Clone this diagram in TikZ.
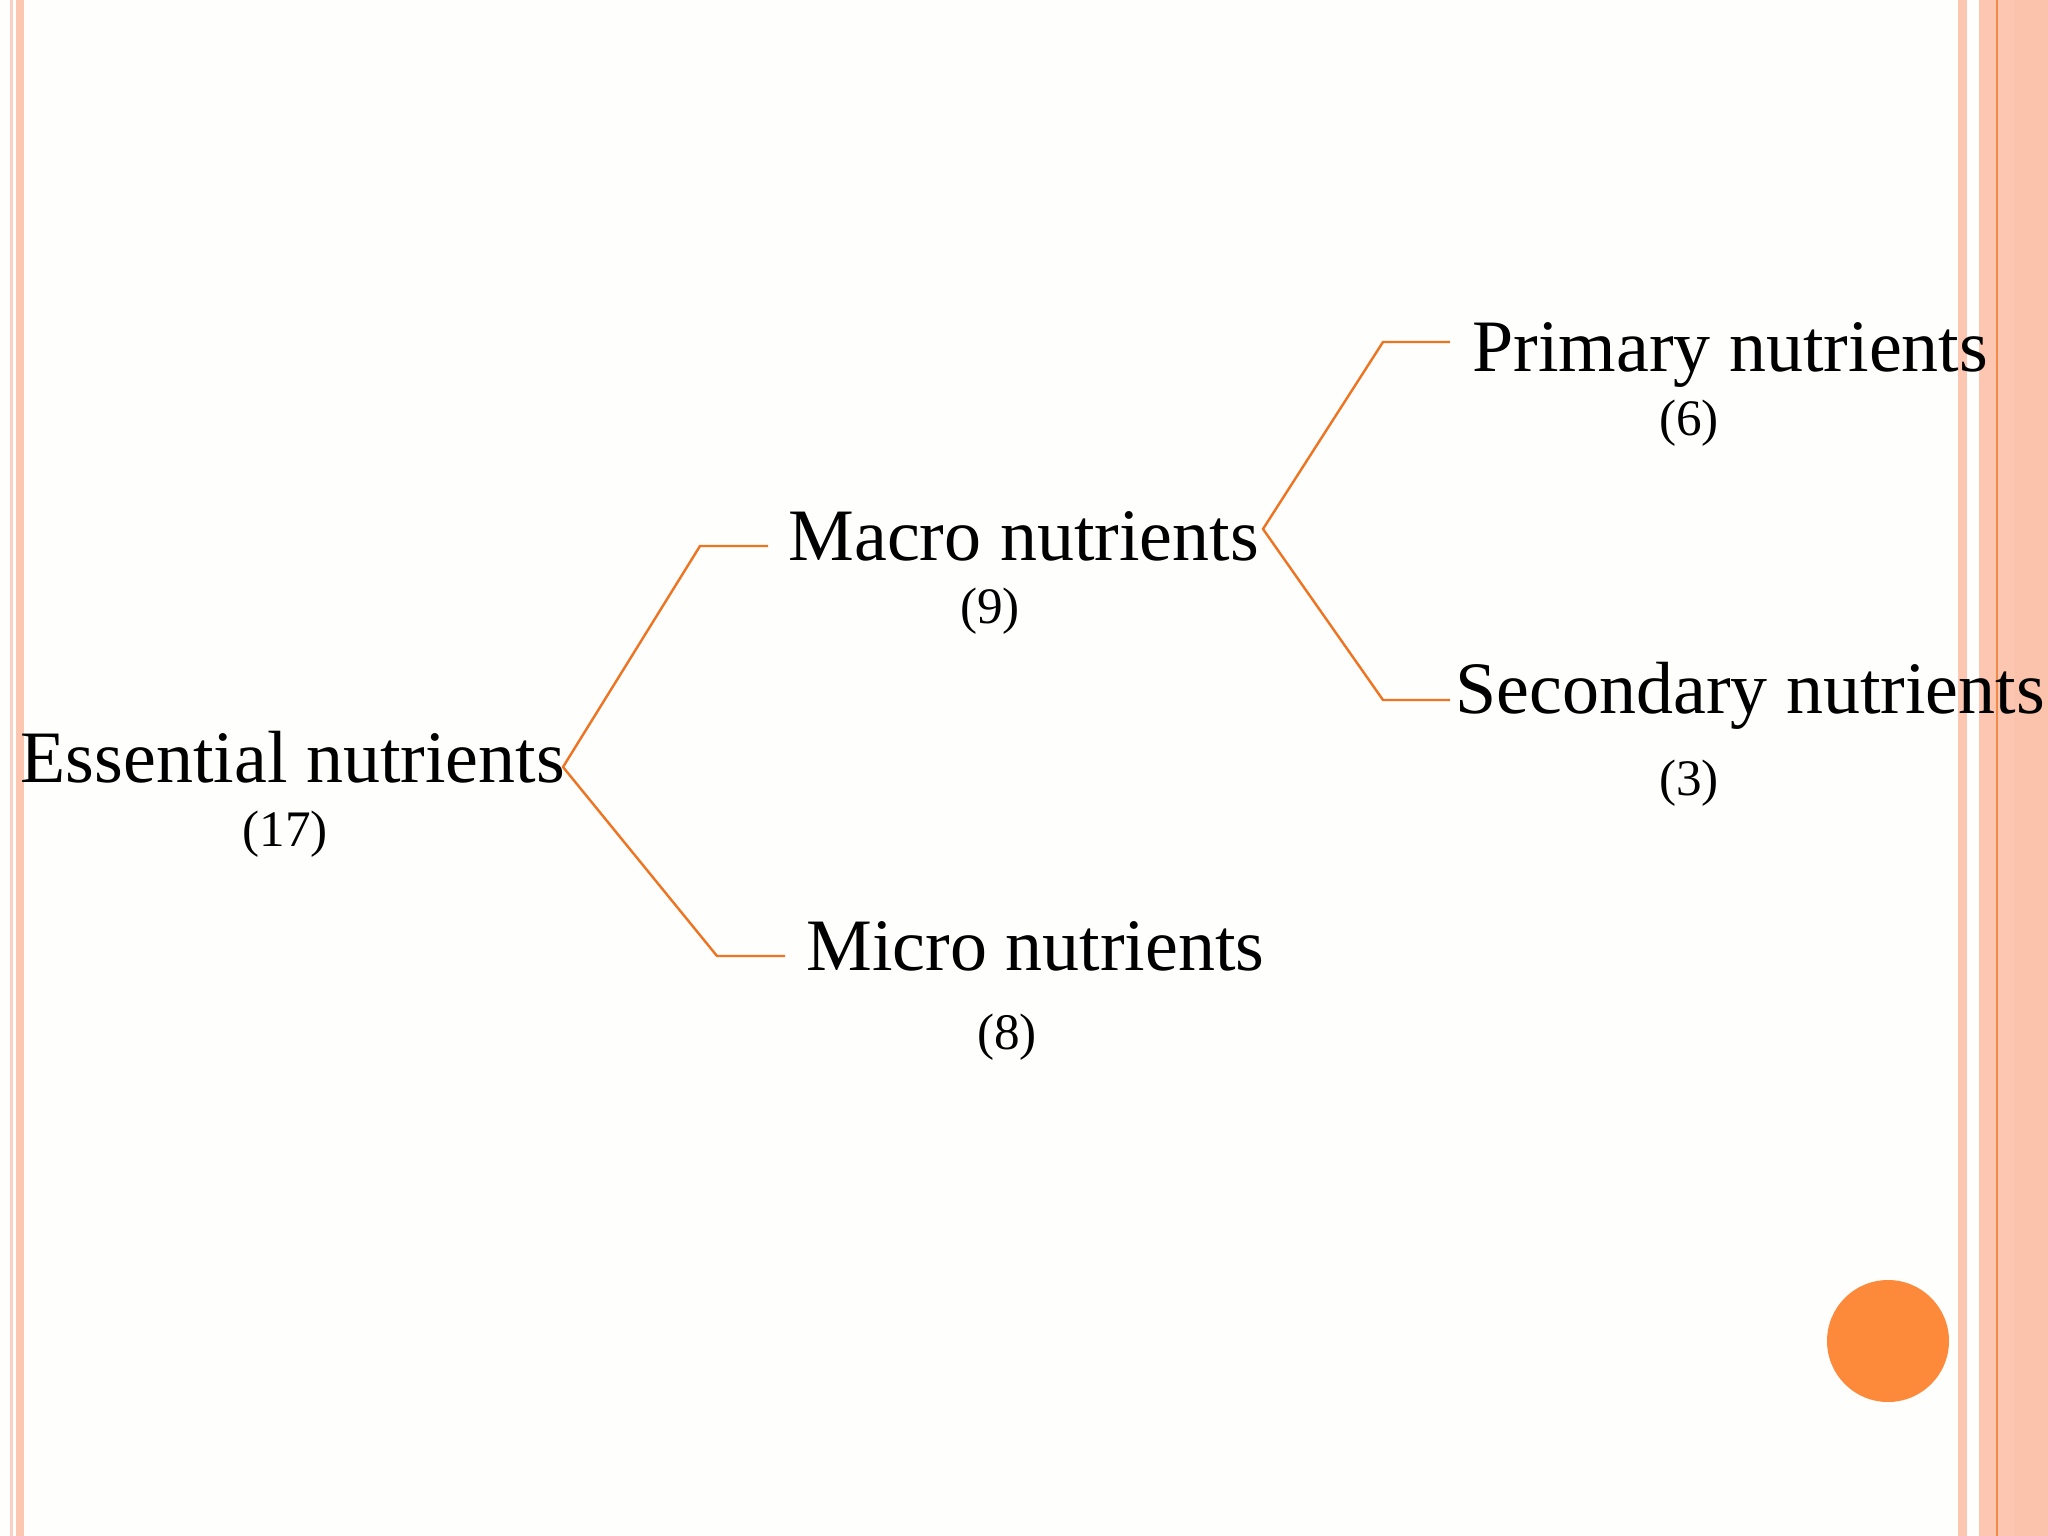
\documentclass[tikz,border=0pt]{standalone}
\usepackage{fontspec}
\setmainfont{Liberation Serif}
\definecolor{bgc}{HTML}{FEFEFC}
\definecolor{conn}{HTML}{EE7422}
\definecolor{dot}{HTML}{FD8A3A}
\definecolor{salmon}{HTML}{FCC6B1}
\definecolor{salmonlt}{HTML}{F9D0C6}
\definecolor{salmondk}{HTML}{FBC2AC}
\definecolor{stripeline}{HTML}{F28A4C}
\begin{document}
\begin{tikzpicture}[x=0.3515625bp,y=-0.3515625bp,
  big/.style={font=\fontsize{26bp}{30bp}\selectfont, inner sep=0pt, anchor=base west},
  small/.style={font=\fontsize{18bp}{21bp}\selectfont, inner sep=0pt, anchor=base},
  link/.style={draw=conn, line width=0.85bp, line join=miter}]
\fill[bgc] (0,0) rectangle (2048,1536);
\useasboundingbox (0,0) rectangle (2048,1536);
% left border stripes
\fill[salmonlt] (10,0) rectangle (13,1536);
\fill[salmon] (16,0) rectangle (24,1536);
% right border stripes
\fill[salmon] (1958,0) rectangle (1967,1536);
\fill[salmon] (1979,0) rectangle (2048,1536);
\fill[salmondk] (2014,0) rectangle (2048,1536);
\fill[stripeline] (1995.5,0) rectangle (1997.5,1536);
% decorative dot
\fill[dot] (1888,1341) circle [radius=61];
% text nodes
\node[big] (ess) at (20,782) {Essential nutrients};
\node[small] (essn) at (285,846) {(17)};
\node[big] (mac) at (788,560) {Macro nutrients};
\node[small] (macn) at (990,623) {(9)};
\node[big] (mic) at (806,970) {Micro nutrients};
\node[small] (micn) at (1007,1049) {(8)};
\node[big] (pri) at (1472,371) {Primary nutrients};
\node[small] (prin) at (1689,435) {(6)};
\node[big] (sec) at (1455,713) {Secondary nutrients};
\node[small] (secn) at (1689,795) {(3)};
% connector points
\coordinate (ej) at (563,767);
\coordinate (eu) at (700,546);
\coordinate (eue) at (768,546);
\coordinate (ed) at (717,956);
\coordinate (ede) at (785,956);
\coordinate (mj) at (1263,529);
\coordinate (mu) at (1383,342);
\coordinate (mue) at (1450,342);
\coordinate (md) at (1383,700);
\coordinate (mde) at (1450,700);
\draw[link] (eue) -- (eu) -- (ej) -- (ed) -- (ede);
\draw[link] (mue) -- (mu) -- (mj) -- (md) -- (mde);
\end{tikzpicture}
\end{document}
